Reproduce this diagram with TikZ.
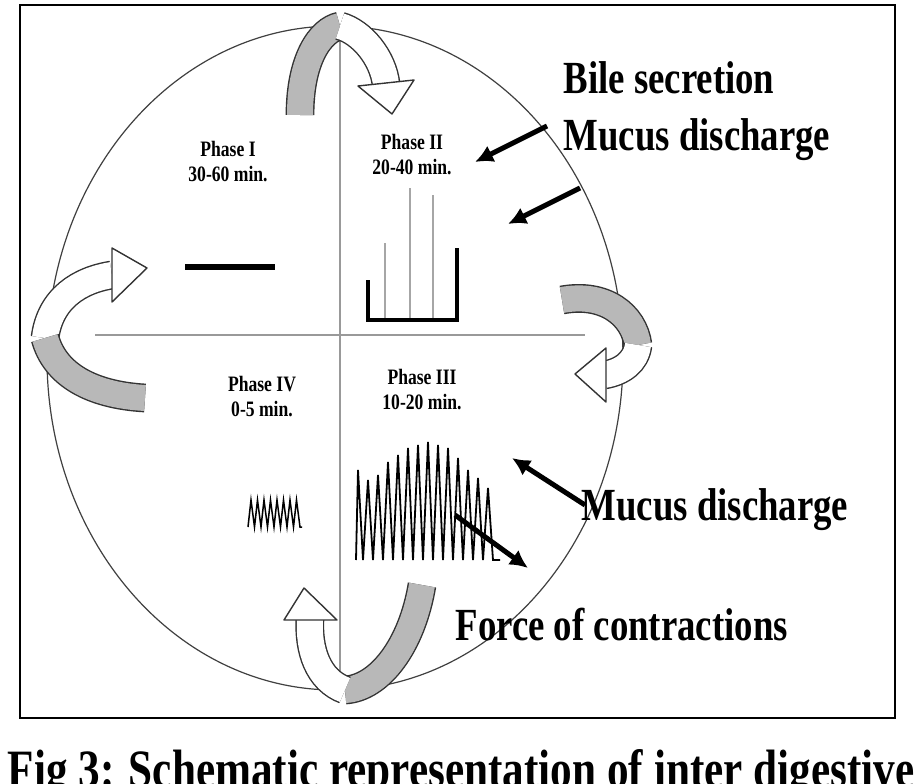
\documentclass[tikz,border=0pt]{standalone}
\usepackage{fontspec}
\usetikzlibrary{arrows.meta}
\setmainfont{Liberation Serif}
\newfontfamily\cond[FakeStretch=0.8]{Liberation Serif}
\begin{document}
\begin{tikzpicture}[x=1pt,y=-1pt,
  phase/.style={font=\cond\bfseries\fontsize{22}{25}\selectfont, align=center},
  big/.style={font=\cond\bfseries\fontsize{46}{48}\selectfont, anchor=west},
  ptr/.style={line width=5pt, -{Latex[length=18pt,width=18pt]}},
  band/.style={double distance=26pt, line width=1.4pt, draw=black!80},
  head/.style={draw=black!80, line width=1.4pt, fill=white, line join=round}]
\useasboundingbox (0,0) rectangle (922,784);
\fill[white] (0,0) rectangle (922,784);
\draw[line width=2.5pt] (20,5) rectangle (895,718);
% body
\draw[line width=1.2pt, black!75] (335,358) ellipse [x radius=288pt, y radius=332pt];
\draw[line width=2pt, black!40] (340,28) -- (340,690);
\draw[line width=2pt, black!40] (95,335) -- (585,335);
% texts
\node[phase] (p1) at (228,162) {Phase I\\30-60 min.};
\node[phase] (p2) at (412,155) {Phase II\\20-40 min.};
\node[phase] (p4) at (262,397) {Phase IV\\0-5 min.};
\node[phase] (p3) at (422,390) {Phase III\\10-20 min.};
% phase I
\draw[line width=6pt] (185,267) -- (275,267);
% phase II
\draw[line width=2.5pt, black!35] (385,318) -- (385,243);
\draw[line width=2.5pt, black!35] (410,318) -- (410,188);
\draw[line width=2.5pt, black!35] (433,318) -- (433,195);
\draw[line width=4pt] (368,280) -- (368,320) -- (457,320) -- (457,248);
% phase IV zigzag
\draw[line width=1.5pt] (248,527) \foreach \i in {0,...,7}{ -- ({251+\i*6.5},500) -- ({254.5+\i*6.5},527)} -- (302,527);
% phase III spikes
\draw[line width=1.8pt] (356,560)
 \foreach \h [count=\i from 0] in {470,480,475,462,455,448,445,442,445,448,458,470,478,488} { -- ({358+\i*10},\h) -- ({363+\i*10},560)} -- (500,560);
% block arrows
% top
\draw[band, double=black!28] (300,115) .. controls (300,60) and (320,30) .. (340,26);
\draw[band, double=white] (340,26) .. controls (362,32) and (383,58) .. (386,84);
\draw[head] (358,86) -- (414,80) -- (392,114) -- cycle;
% right
\draw[band, double=black!28] (562,300) .. controls (605,292) and (634,315) .. (638,345);
\draw[band, double=white] (638,345) .. controls (636,362) and (622,372) .. (604,375);
\draw[head] (606,348) -- (606,402) -- (575,374) -- cycle;
% bottom
\draw[band, double=black!28] (422,585) .. controls (412,645) and (380,688) .. (345,690);
\draw[band, double=white] (345,690) .. controls (318,680) and (308,650) .. (310,618);
\draw[head] (284,620) -- (337,620) -- (304,588) -- cycle;
% left
\draw[band, double=white] (45,338) .. controls (50,298) and (80,280) .. (112,275);
\draw[head] (112,248) -- (112,302) -- (147,268) -- cycle;
\draw[band, double=black!28] (45,338) .. controls (55,375) and (92,395) .. (145,398);
% labels
\node[big] (bile) at (560,78) {Bile secretion};
\node[big] (muc1) at (560,140) {Mucus discharge};
\node[big] (muc2) at (578,510) {Mucus discharge};
\node[big] (force) at (452,625) {Force of contractions};
\coordinate (t1) at (475,162);
\coordinate (t2) at (508,224);
\coordinate (t3) at (512,458);
\coordinate (t4) at (528,568);
\coordinate (s4) at (455,515);
\draw[ptr] (547,126) -- (t1);
\draw[ptr] (580,188) -- (t2);
\draw[ptr] (585,505) -- (t3);
\draw[ptr] (s4) -- (t4);
% caption
\node[font=\cond\bfseries\fontsize{54}{56}\selectfont] (cap) at (461,774) {Fig 3: Schematic representation of inter digestive};
\end{tikzpicture}
\end{document}
